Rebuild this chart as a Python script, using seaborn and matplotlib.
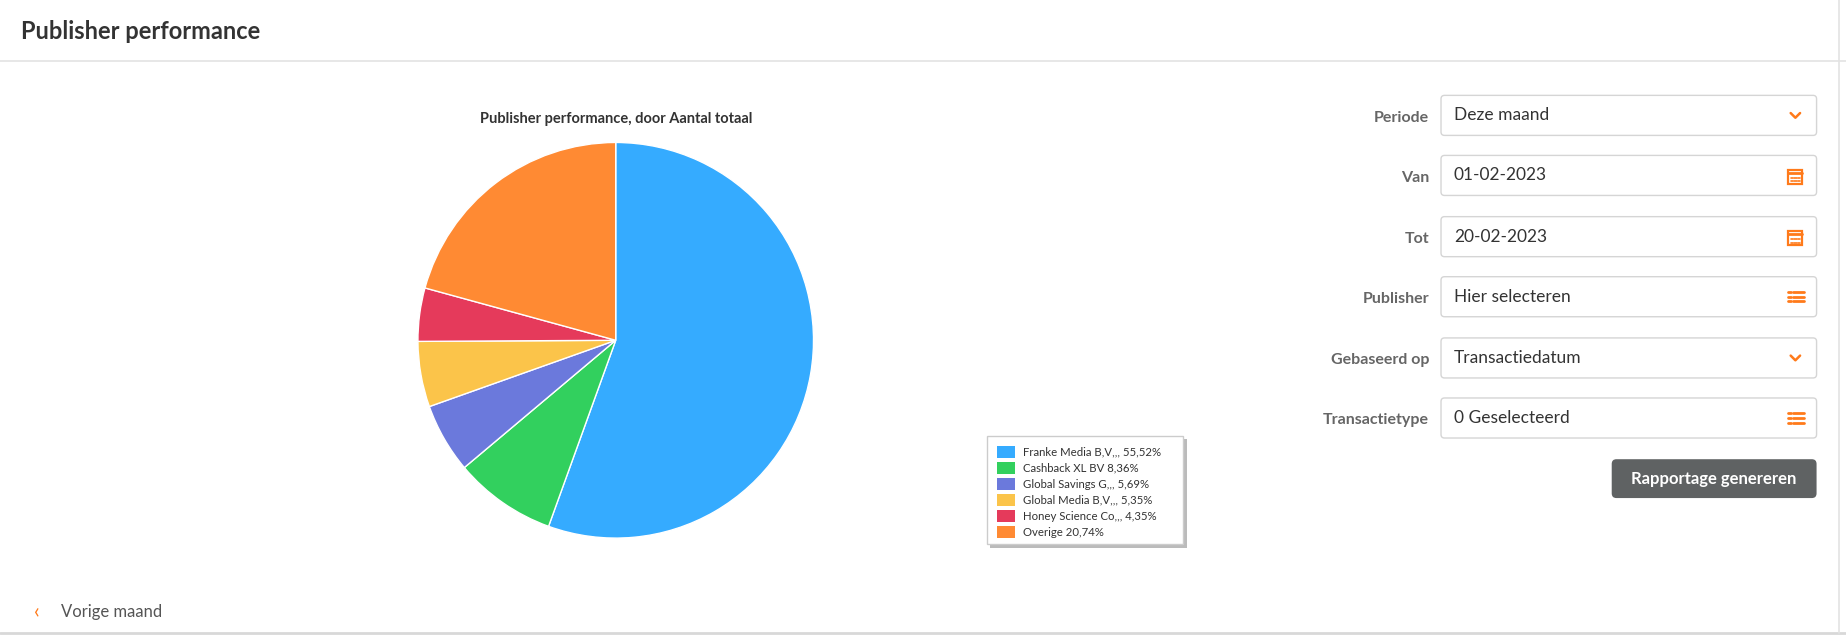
import matplotlib
matplotlib.use("Agg")
import matplotlib.pyplot as plt
import seaborn as sns
from matplotlib.patches import Rectangle, FancyBboxPatch

sns.set_theme(style="white")
plt.rcParams['font.family'] = ['Lato', 'DejaVu Sans']

labels = ["Franke Media B.V...", "Cashback XL BV", "Global Savings G...", "Global Media B.V...", "Honey Science Co...", "Overige"]
values = [55.52, 8.36, 5.69, 5.35, 4.35, 20.74]
colors = ["#35abff", "#32d05e", "#6b79dc", "#fbc44a", "#e53a5b", "#ff8a33"]
form_labels = ["Periode", "Van", "Tot", "Publisher", "Gebaseerd op", "Transactietype"]
form_values = ["Deze maand", "01-02-2023", "20-02-2023", "Hier selecteren", "Transactiedatum", "0 Geselecteerd"]
form_icons = ["chev", "cal", "cal", "list", "chev", "list"]

W, H = 1568, 541
fig = plt.figure(figsize=(18.46, 6.37), dpi=100)
ui = fig.add_axes([0, 0, 1, 1])
ui.set_xlim(0, W); ui.set_ylim(H, 0); ui.axis("off")
OR = "#ff7a1a"

# header
ui.text(18, 27, "Publisher performance", fontsize=17, fontweight="bold", color="#333", va="center")
ui.plot([0, W], [52, 52], color="#e3e3e3", lw=1.2)
ui.plot([0, W], [538, 538], color="#d8d8d8", lw=2)
ui.plot([1562, 1562], [0, 538], color="#e3e3e3", lw=1.2)
ui.text(523, 101, "Publisher performance, door Aantal totaal", fontsize=10.5, fontweight="bold", color="#333", ha="center", va="center")
ui.text(31, 520, "‹", fontsize=15, color=OR, ha="center", va="center")
ui.text(52, 520, "Vorige maand", fontsize=12, color="#555", va="center")

# form
ys = [98, 149, 201, 252, 304, 355]
for y, lab, val, ic in zip(ys, form_labels, form_values, form_icons):
    ui.text(1214, y + 2, lab, fontsize=11.5, fontweight="bold", color="#666", ha="right", va="center")
    ui.add_patch(FancyBboxPatch((1224, y - 17), 319, 34, boxstyle="round,pad=0,rounding_size=3",
                                fc="white", ec="#d5d5d5", lw=1))
    ui.text(1235, y, val, fontsize=12.5, color="#333", va="center")
    x = 1525
    if ic == "chev":
        ui.plot([x - 4, x, x + 4], [y - 2, y + 2, y - 2], color=OR, lw=1.8)
    elif ic == "cal":
        ui.add_patch(Rectangle((x - 6, y - 5), 12, 12, fc="none", ec=OR, lw=1.6))
        ui.plot([x - 6, x + 6], [y - 2, y - 2], color=OR, lw=2)
        for dx in (-3, 0, 3):
            for dy in (2, 5):
                ui.plot([x + dx - 1, x + dx + 1], [y + dy, y + dy], color=OR, lw=1.2)
    else:
        for dy in (-4, 0, 4):
            ui.plot([x - 6, x - 4], [y + dy, y + dy], color=OR, lw=2)
            ui.plot([x - 2, x + 7], [y + dy, y + dy], color=OR, lw=2)
ui.add_patch(FancyBboxPatch((1369, 390), 174, 33, boxstyle="round,pad=0,rounding_size=4", fc="#5f6263", ec="none"))
ui.text(1456, 407, "Rapportage genereren", fontsize=12, fontweight="bold", color="white", ha="center", va="center")

# legend box
ui.add_patch(Rectangle((841, 373), 167, 92, fc="#bbbbbb", ec="none"))
ui.add_patch(Rectangle((838, 370), 167, 92, fc="white", ec="#cccccc", lw=1))
for i, (l, v, c) in enumerate(zip(labels, values, colors)):
    yy = 384 + i * 13.6
    ui.add_patch(Rectangle((847, yy - 5), 15, 10, fc=c, ec="none"))
    ui.text(869, yy, f"{l} {v:.2f}".replace(".", ",") + "%", fontsize=8.2, color="#333", va="center")

# pie
r = 168
ax = fig.add_axes([(523 - r) / W, 1 - (289 + r) / H, 2 * r / W, 2 * r / H])
ax.pie(values, colors=colors, startangle=90, counterclock=False,
       wedgeprops=dict(edgecolor="white", linewidth=1))
ax.set_aspect("auto")
ax.set_xlim(-1, 1); ax.set_ylim(-1, 1); ax.axis("off")

fig.savefig("out.png", dpi=100)
